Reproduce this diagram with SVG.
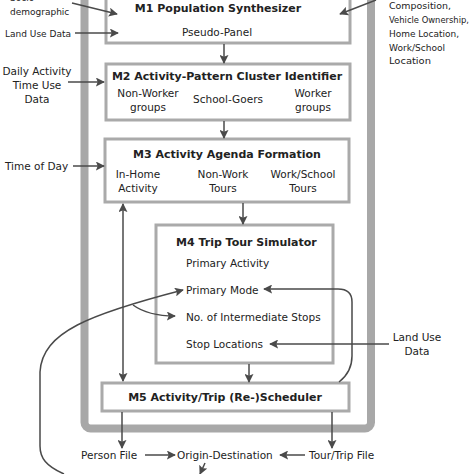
<svg xmlns="http://www.w3.org/2000/svg" width="474" height="474" viewBox="0 0 474 474">
<defs>
<marker id="ah" viewBox="0 0 10 10" refX="9" refY="5" markerWidth="9" markerHeight="9" markerUnits="userSpaceOnUse" orient="auto-start-reverse">
<path d="M0,0 L10,5 L0,10 L2,5 z" fill="#4a4a4a"/>
</marker>
</defs>
<style>
text{font-family:"DejaVu Sans",Verdana,sans-serif;font-size:10.5px;fill:#222}
.t{font-weight:bold;font-size:11px}
.m{text-anchor:middle}
.s{font-size:9px}
.box{fill:#fff;stroke:#aaa;stroke-width:3}
.ln{fill:none;stroke:#4a4a4a;stroke-width:1.5}
.a{marker-end:url(#ah)}
</style>
<rect width="474" height="474" fill="#fff"/>
<rect id="frame" x="84.5" y="-20" width="286.5" height="448.5" rx="6" fill="#fff" stroke="#a8a8a8" stroke-width="8"/>

<g id="m1">
<rect class="box" x="106" y="-10" width="244" height="53"/>
<text class="t m" x="218" y="12">M1 Population Synthesizer</text>
<text class="m" x="217" y="36">Pseudo-Panel</text>
</g>
<g id="m2">
<rect class="box" x="106" y="64" width="244" height="56"/>
<text class="t m" x="227" y="80">M2 Activity-Pattern Cluster Identifier</text>
<text class="m" x="148" y="97">Non-Worker</text>
<text class="m" x="148" y="111">groups</text>
<text class="m" x="228" y="103">School-Goers</text>
<text class="m" x="313" y="97">Worker</text>
<text class="m" x="313" y="111">groups</text>
</g>
<g id="m3">
<rect class="box" x="105" y="139" width="244" height="63"/>
<text class="t m" x="227" y="158">M3 Activity Agenda Formation</text>
<text class="m" x="138" y="178">In-Home</text>
<text class="m" x="138" y="192">Activity</text>
<text class="m" x="223" y="178">Non-Work</text>
<text class="m" x="223" y="192">Tours</text>
<text class="m" x="303" y="178">Work/School</text>
<text class="m" x="303" y="192">Tours</text>
</g>
<g id="m4">
<rect class="box" x="156" y="225" width="177" height="138"/>
<text class="t" x="176" y="246">M4 Trip Tour Simulator</text>
<text x="186" y="267">Primary Activity</text>
<text x="186" y="294">Primary Mode</text>
<text x="186" y="321">No. of Intermediate Stops</text>
<text x="186" y="348">Stop Locations</text>
</g>
<g id="m5">
<rect class="box" x="102" y="383" width="247" height="28"/>
<text class="t m" x="225" y="401">M5 Activity/Trip (Re-)Scheduler</text>
</g>

<g id="labels">
<text class="s" x="10" y="1">Socio-</text>
<text class="s" x="10" y="15">demographic</text>
<text class="s" x="5" y="37">Land Use Data</text>
<text class="s" x="389" y="9" textLength="62" lengthAdjust="spacingAndGlyphs">Composition,</text>
<text class="s" x="389" y="23" textLength="80" lengthAdjust="spacingAndGlyphs">Vehicle Ownership,</text>
<text class="s" x="389" y="37" textLength="70" lengthAdjust="spacingAndGlyphs">Home Location,</text>
<text class="s" x="389" y="51" textLength="56" lengthAdjust="spacingAndGlyphs">Work/School</text>
<text class="s" x="389" y="64" textLength="42" lengthAdjust="spacingAndGlyphs">Location</text>
<text class="m" x="37" y="75">Daily Activity</text>
<text class="m" x="37" y="89">Time Use</text>
<text class="m" x="37" y="103">Data</text>
<text x="5" y="170">Time of Day</text>
<text class="m" x="417" y="341">Land Use</text>
<text class="m" x="417" y="355">Data</text>
<text x="81" y="459">Person File</text>
<text x="177" y="459">Origin-Destination</text>
<text x="309" y="459">Tour/Trip File</text>
</g>

<g id="connectors">
<path class="ln a" d="M72 3 L117 14"/>
<path class="ln a" d="M75 33 L118 33"/>
<path class="ln a" d="M376 0 L340 14"/>
<path class="ln a" d="M224 44 L224 63"/>
<path class="ln a" d="M68 82 L104 82"/>
<path class="ln a" d="M224 121 L224 138"/>
<path class="ln a" d="M73 166 L104 166"/>
<path class="ln a" d="M243 203 L243 224"/>
<path class="ln" d="M123 204 L123 381" marker-start="url(#ah)" marker-end="url(#ah)"/>
<path class="ln a" d="M249 364 L249 382"/>
<path class="ln a" d="M339 382 Q352 372 352 356 L352 302 Q352 289 338 289 L264 289"/>
<path class="ln a" d="M389 344 L270 344"/>
<path class="ln a" d="M64 474 C46 466 40 458 40 446 L40 372 C42 332 90 314 183 290"/>
<path class="ln a" d="M133 305 Q148 316 175 316"/>
<path class="ln a" d="M122 412 L122 448"/>
<path class="ln a" d="M332 412 L332 448"/>
<path class="ln a" d="M145 455 L175 455"/>
<path class="ln a" d="M305 455 L280 455"/>
<path class="ln a" d="M205 463 L200 474"/>
</g>
</svg>
